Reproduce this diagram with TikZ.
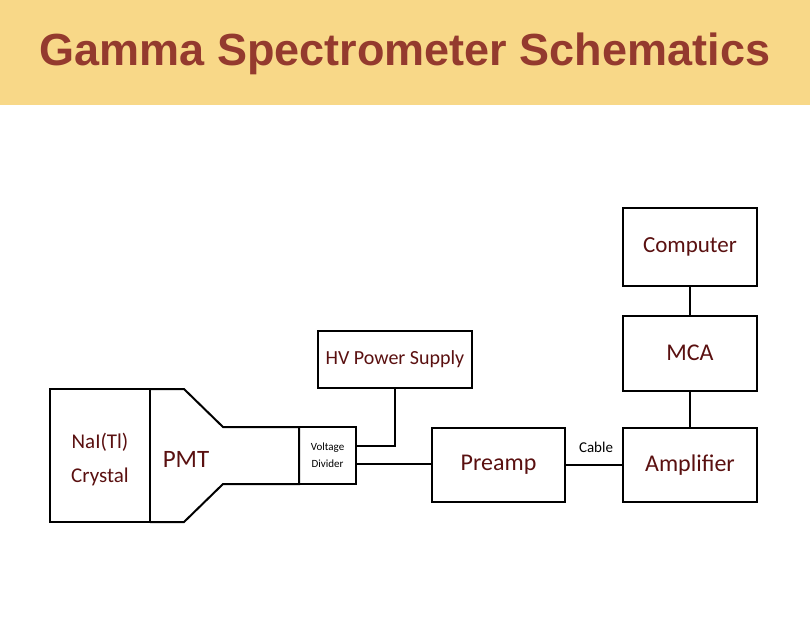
\documentclass[tikz,border=0pt]{standalone}
\usepackage{fontspec}
\setmainfont{Carlito}
\newfontfamily\titlefont{Liberation Sans}
\definecolor{band}{HTML}{F8D888}
\definecolor{ttl}{HTML}{943A2E}
\definecolor{txt}{HTML}{5A1010}
\begin{document}
\begin{tikzpicture}[x=1pt,y=-1pt,
  box/.style={draw,line width=2pt},
  wire/.style={line width=2pt},
  lbl/.style={text=txt,font=\fontsize{23}{25}\selectfont}]
\useasboundingbox (0,0) rectangle (810,630);
\fill[band] (0,0) rectangle (810,105);
\node[text=ttl,font=\titlefont\bfseries\fontsize{45}{50}\selectfont] (title) at (405,54) {Gamma Spectrometer Schematics};
% crystal
\draw[box] (50,389) rectangle (150,522);
\node[lbl,align=center,font=\fontsize{21}{34}\selectfont] (crys) at (100,459) {NaI(Tl)\\Crystal};
% PMT
\draw[box] (150,389) -- (184,389) -- (223,427) -- (299,427) -- (299,484) -- (223,484) -- (184,522) -- (150,522);
\node[lbl,font=\fontsize{25}{27}\selectfont] (pmt) at (186,459) {PMT};
\node[box,minimum width=57pt,minimum height=57pt,align=center,font=\fontsize{11}{17}\selectfont,text=black] (vd) at (327.5,455.5) {Voltage\\Divider};
\node[box,minimum width=154pt,minimum height=57pt,lbl,font=\fontsize{20}{22}\selectfont] (hv) at (395,359.5) {HV Power Supply};
\node[box,minimum width=133pt,minimum height=74pt,lbl,font=\fontsize{24}{26}\selectfont] (pre) at (498.5,465) {Preamp};
\node[box,minimum width=134pt,minimum height=74pt,lbl,font=\fontsize{24}{26}\selectfont] (amp) at (690,465) {Amplifier};
\node[box,minimum width=134pt,minimum height=75pt,lbl,font=\fontsize{24}{26}\selectfont] (mca) at (690,353) {MCA};
\node[box,minimum width=134pt,minimum height=78pt,lbl] (comp) at (690,247) {Computer};
\coordinate (vdo1) at (356,446);
\coordinate (vdo2) at (356,464);
\draw[wire] (vdo1) -- (395,446) -- (hv.south);
\draw[wire] (vdo2) -- (pre.west |- vdo2);
\draw[wire] (pre.east) -- (amp.west);
\node[font=\fontsize{15}{17}\selectfont] (cable) at (596,447) {Cable};
\draw[wire] (comp.south) -- (mca.north);
\draw[wire] (mca.south) -- (amp.north);
\end{tikzpicture}
\end{document}
